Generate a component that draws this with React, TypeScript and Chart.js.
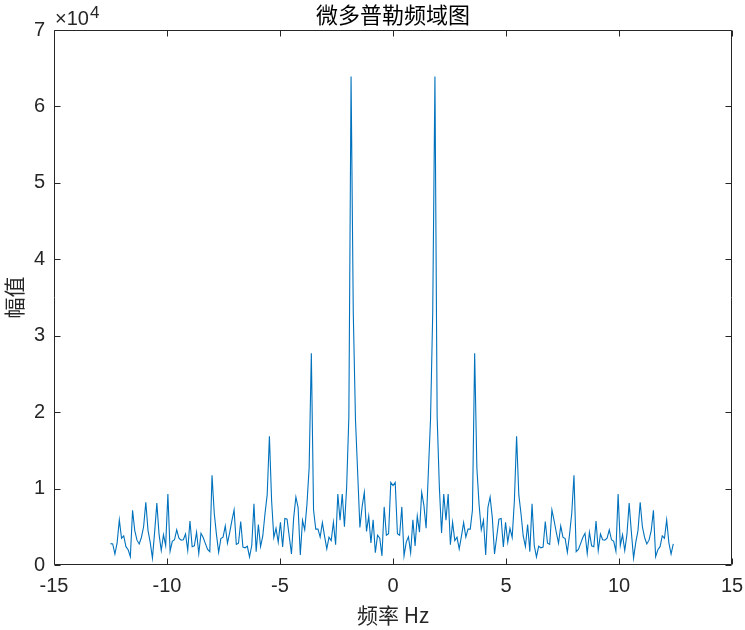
import React, { useEffect, useRef } from "react";
import { Chart, registerables } from "chart.js";

Chart.register(...registerables);

// FFT parameters of the spectrum (frequency axis)
const sampleRate = 25; // Hz
const fftSize = 256;

// Magnitudes, bins 0..128 (-12.5 Hz .. 0 Hz)
const magnitudeNegative = [
  2800, 2750, 1420, 2900, 5900, 3500, 3800, 2400, 2000, 1100,
  7150, 4500, 3250, 2750, 3600, 5000, 8200, 4500, 2950, 900,
  4300, 8100, 4000, 1900, 3950, 2550, 9300, 1800, 3100, 3300,
  4600, 3500, 3250, 3300, 4050, 1900, 5750, 2400, 2500, 4300,
  1500, 4150, 3600, 2800, 2050, 1750, 11750, 6800, 4000, 1650,
  3450, 3650, 5100, 2850, 4250, 5800, 7200, 2700, 2850, 5700,
  2350, 2250, 2450, 1050, 2550, 8000, 1750, 5300, 2400, 3800,
  6700, 9200, 16850, 8400, 3600, 4800, 3000, 5600, 2350, 6100,
  6000, 3700, 1450, 6200, 8900, 7500, 1300, 5850, 4600, 7900,
  12700, 27700, 7200, 4700, 4700, 3650, 5550, 3750, 2100, 3650,
  3200, 5600, 2650, 9300, 5850, 9300, 5000, 10200, 19400, 63900,
  33000, 19000, 12000, 4900, 7600, 9500, 4400, 6400, 2900, 5900,
  1600, 3900, 3500, 1200, 7600, 3900, 4100, 10800, 10400,
];

// Magnitudes, bins 129..255 (0.1 Hz .. 12.4 Hz)
const magnitudePositive = [
  10800, 4100, 3900, 7600, 1200, 3000, 3700, 1600, 5900, 2500,
  6400, 4300, 9500, 7800, 4800, 12000, 19000, 33000, 63900, 19400,
  10200, 4200, 9300, 5850, 9300, 2650, 5600, 3200, 3650, 2100,
  3750, 5550, 3650, 4700, 4700, 7200, 27700, 12700, 7900, 4600,
  5850, 1300, 7500, 8900, 6200, 1450, 3700, 6000, 6100, 2350,
  5600, 3000, 4800, 3600, 8400, 16850, 9200, 6700, 3800, 2400,
  5300, 1750, 8000, 2550, 1050, 2450, 2250, 2350, 5700, 2850,
  2700, 7200, 5800, 4250, 2850, 5100, 3650, 3450, 1650, 4000,
  6800, 11750, 1750, 2050, 2800, 3600, 4150, 1500, 4300, 2500,
  2400, 5750, 1900, 4050, 3300, 3250, 3500, 4600, 3300, 3100,
  1800, 9300, 2550, 3950, 1900, 4000, 8100, 4300, 900, 2950,
  4500, 8200, 5000, 3600, 2750, 3250, 4500, 7150, 1100, 2000,
  2400, 3800, 3500, 5900, 2900, 1420, 2750,
];

const xTicks = [-15, -10, -5, 0, 5, 10, 15];
const yTicks = [0, 10000, 20000, 30000, 40000, 50000, 60000, 70000];
const yExponent = 4;

const titleText = "微多普勒频域图";
const xLabelText = "频率 Hz";
const yLabelText = "幅值";

const LATIN = '"Liberation Sans", Arial, Helvetica, sans-serif';
const CJK = '"Noto Sans CJK SC", "Liberation Sans", sans-serif';
const AXIS_COLOR = "#262626";
const LINE_COLOR = "#0072BD";

export default function App() {
  const ref = useRef<HTMLCanvasElement>(null);

  useEffect(() => {
    const canvas = ref.current;
    if (!canvas) return;
    const mags = [...magnitudeNegative, ...magnitudePositive];
    const points = mags.map((m, i) => ({
      x: ((i - fftSize / 2) * sampleRate) / fftSize,
      y: m,
    }));

    const matlabAxes = {
      id: "matlabAxes",
      afterDraw(chart: any) {
        const { ctx, chartArea: a, scales } = chart;
        const L = Math.round(a.left) + 0.5;
        const R = Math.round(a.right) - 0.5;
        const T = Math.round(a.top) + 0.5;
        const B = Math.round(a.bottom) - 0.5;
        ctx.save();
        ctx.strokeStyle = AXIS_COLOR;
        ctx.lineWidth = 1;
        ctx.beginPath();
        ctx.rect(L, T, R - L, B - T);
        const tl = 6;
        xTicks.forEach((v) => {
          const px = Math.round(scales.x.getPixelForValue(v)) + 0.5;
          ctx.moveTo(px, B);
          ctx.lineTo(px, B - tl);
          ctx.moveTo(px, T);
          ctx.lineTo(px, T + tl);
        });
        yTicks.forEach((v) => {
          const py = Math.round(scales.y.getPixelForValue(v)) + 0.5;
          ctx.moveTo(L, py);
          ctx.lineTo(L + tl, py);
          ctx.moveTo(R, py);
          ctx.lineTo(R - tl, py);
        });
        ctx.stroke();

        const cx = (a.left + a.right) / 2;
        const cy = (a.top + a.bottom) / 2;

        // title
        ctx.fillStyle = "#000000";
        ctx.textAlign = "center";
        ctx.textBaseline = "middle";
        ctx.font = `22px ${CJK}`;
        ctx.fillText(titleText, cx, 15);

        // x label
        ctx.fillStyle = AXIS_COLOR;
        ctx.font = `21px ${CJK}`;
        ctx.fillText(xLabelText, cx, 615);

        // y label
        ctx.save();
        ctx.translate(14, cy);
        ctx.rotate(-Math.PI / 2);
        ctx.fillText(yLabelText, 0, 0);
        ctx.restore();

        // exponent
        ctx.textAlign = "left";
        ctx.textBaseline = "alphabetic";
        ctx.font = `20px ${LATIN}`;
        const base = "×10";
        ctx.fillText(base, a.left + 1, 25);
        const w = ctx.measureText(base).width;
        ctx.font = `17px ${LATIN}`;
        ctx.fillText(String(yExponent), a.left + 1 + w + 1, 18);
        ctx.restore();
      },
    };

    const chart = new Chart(canvas, {
      type: "line",
      data: {
        datasets: [
          {
            data: points,
            borderColor: LINE_COLOR,
            borderWidth: 1.1,
            pointRadius: 0,
            tension: 0,
            fill: false,
          },
        ],
      },
      options: {
        animation: false,
        responsive: false,
        devicePixelRatio: 1,
        parsing: false as any,
        layout: { padding: { left: 0, right: 13, top: 30, bottom: 0 } },
        plugins: {
          legend: { display: false },
          tooltip: { enabled: false },
          title: { display: false },
        },
        scales: {
          x: {
            type: "linear",
            min: -15,
            max: 15,
            grid: { display: false, drawTicks: false },
            border: { display: false },
            afterBuildTicks: (s: any) => {
              s.ticks = xTicks.map((v) => ({ value: v }));
            },
            afterFit: (s: any) => {
              s.height = 65;
              s.paddingLeft = 0;
              s.paddingRight = 0;
            },
            ticks: {
              padding: 9,
              color: AXIS_COLOR,
              font: { family: LATIN, size: 20 },
              maxRotation: 0,
              autoSkip: false,
              callback: (v: any) => String(v),
            },
          },
          y: {
            type: "linear",
            min: 0,
            max: 70000,
            grid: { display: false, drawTicks: false },
            border: { display: false },
            afterBuildTicks: (s: any) => {
              s.ticks = yTicks.map((v) => ({ value: v }));
            },
            afterFit: (s: any) => {
              s.width = 54;
              s.paddingTop = 0;
              s.paddingBottom = 0;
            },
            ticks: {
              padding: 9,
              color: AXIS_COLOR,
              font: { family: LATIN, size: 20 },
              autoSkip: false,
              callback: (v: any) => String(Number(v) / Math.pow(10, yExponent)),
            },
          },
        },
      },
      plugins: [matlabAxes],
    });

    return () => chart.destroy();
  }, []);

  return (
    <div style={{ position: "fixed", left: 0, top: 0, width: 745, height: 630, background: "#fff" }}>
      <canvas ref={ref} width={745} height={630} style={{ display: "block" }} />
    </div>
  );
}
